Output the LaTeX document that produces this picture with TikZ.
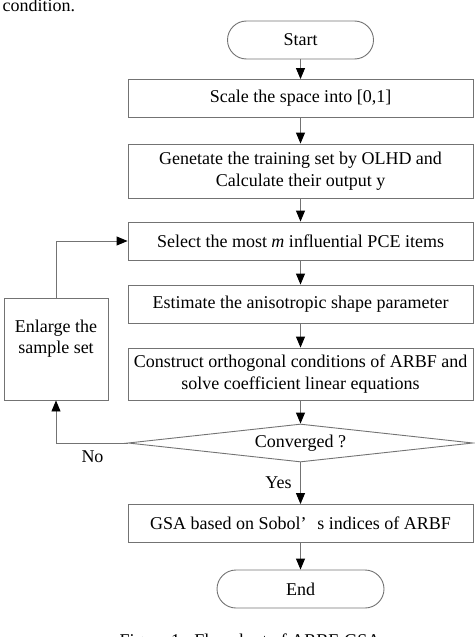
\documentclass[tikz,border=0pt]{standalone}
\usepackage{fontspec}
\setmainfont{Liberation Serif}
\usetikzlibrary{arrows.meta,shapes.geometric}

\begin{document}
\begin{tikzpicture}[x=1pt,y=-1pt,
  every node/.style={font=\fontsize{18}{21.5}\selectfont},
  procbox/.style={draw=black!55, line width=0.9pt, rectangle, inner sep=0pt,
    minimum width=345pt, minimum height=38pt, align=center},
  termbox/.style={draw=black!55, line width=0.9pt, rectangle, rounded corners=19pt,
    inner sep=0pt, minimum height=38pt},
  decision/.style={draw=black!55, line width=0.9pt, diamond, aspect=9.08, inner sep=0pt,
    minimum width=345pt, minimum height=38pt},
  flow/.style={draw=black!55, line width=0.9pt, -{Triangle[length=11pt,width=9pt,black]}}]

\def\xc{300.5}

\useasboundingbox (0,0) rectangle (474,637);

% text around the figure
\node[anchor=base west] (prev) at (-1,12) {condition.};
\node[anchor=base west] (caption) at (116,646) {Figure 1\hspace{0.8em}Flowchart of ARBF-GSA};

% main column
\node[termbox, minimum width=146pt] (start) at (\xc,40) {Start};
\node[procbox] (scale) at (\xc,98.5) {Scale the space into [0,1]};
\node[procbox, minimum height=54pt] (train) at (\xc,171) {Genetate the training set by OLHD and\\Calculate their output y};
\node[procbox] (select) at (\xc,241) {Select the most \textit{m} influential PCE items};
\node[procbox] (shape) at (\xc,304) {Estimate the anisotropic shape parameter};
\node[procbox, minimum height=52pt] (solve) at (\xc,374) {Construct orthogonal conditions of ARBF and\\solve coefficient linear equations};
\node[decision] (conv) at (\xc,443) {Converged ?};
\node[procbox] (gsa) at (\xc,523.5) {GSA based on Sobol’\hspace{0.6em}s indices of ARBF};
\node[termbox, minimum width=167pt] (end) at (\xc,589) {End};

% loop box
\node[procbox, minimum width=104pt, minimum height=102pt, text height=13pt] (enlarge) at (56,349) {Enlarge the\\sample set};

% connectors
\draw[flow] (start) -- (scale);
\draw[flow] (scale) -- (train);
\draw[flow] (train) -- (select);
\draw[flow] (select) -- (shape);
\draw[flow] (shape) -- (solve);
\draw[flow] (solve) -- (conv);
\draw[flow] (conv) -- (gsa);
\draw[flow] (gsa) -- (end);
\draw[flow] (conv.west) -| (enlarge.south);
\draw[flow] (enlarge.north) |- (select.west);

% branch labels
\node (no) at (92.5,457) {No};
\node (yes) at (278.5,483) {Yes};

\end{tikzpicture}
\end{document}
